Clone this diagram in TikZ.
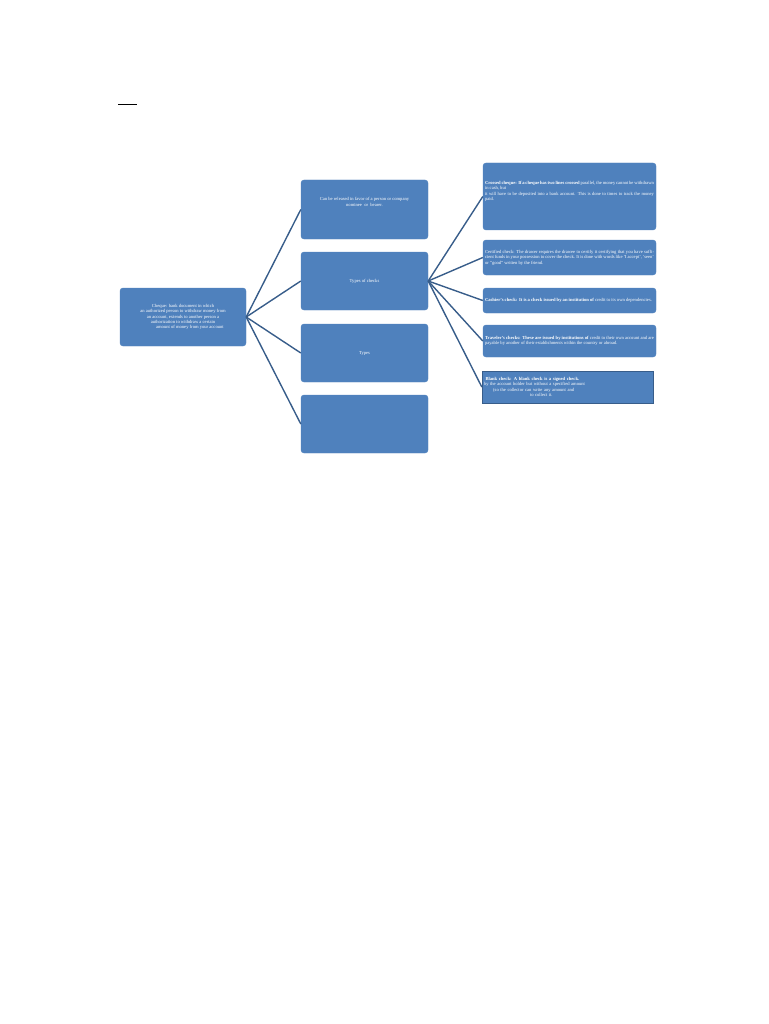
\documentclass[tikz,border=0pt]{standalone}
\usepackage{fontspec}
\setmainfont{Liberation Serif}
\begin{document}
\begin{tikzpicture}[x=1pt,y=-1pt,
 bx/.style={fill=blue!35!cyan!40!black!0,fill={rgb,255:red,79;green,129;blue,189},draw={rgb,255:red,79;green,129;blue,189},rounded corners=3pt,text=white,font=\fontsize{4.6}{5.4}\selectfont,inner sep=2pt},
 ln/.style={draw={rgb,255:red,56;green,93;blue,138},line width=1.4pt}]
\useasboundingbox (0,0) rectangle (768,1024);
\draw[line width=0.8pt] (118,104) -- (137,104);
\node[bx,minimum width=126pt,minimum height=58pt,align=center] (root) at (183,317) {Cheque: bank document in which\\an authorized person to withdraw money from\\an account, extends to another person a\\authorization to withdraw a certain\\\hspace{3em}amount of money from your account};
\node[bx,minimum width=127pt,minimum height=59pt,align=center] (a) at (364.5,209.5) {Can be released in favor of a person or company\\nominee\ \ or\ \ bearer.\\[10pt]};
\node[bx,minimum width=127pt,minimum height=58pt,align=center] (b) at (364.5,281) {Types of checks};
\node[bx,minimum width=127pt,minimum height=58pt,align=center] (c) at (364.5,353) {Types};
\node[bx,minimum width=127pt,minimum height=58pt] (d) at (364.5,424) {};
\node[bx,minimum width=173pt,minimum height=67pt,text width=169pt,align=justify] (r1) at (569.5,196.5) {\textbf{Crossed cheque: If a cheque has two lines crossed} parallel, the money cannot be withdrawn in cash, but\\it will have to be deposited into a bank account. This is done to times to track the money paid.\\[6pt]};
\node[bx,minimum width=173pt,minimum height=35pt,text width=169pt,align=justify] (r2) at (569.5,257.5) {Certified check: The drawer requires the drawee to certify it certifying that you have sufficient funds in your possession to cover the check. It is done with words like 'I accept', 'seen' or "good" written by the friend.};
\node[bx,minimum width=173pt,minimum height=25pt,text width=169pt,align=justify] (r3) at (569.5,300.5) {\textbf{Cashier's check: It is a check issued by an institution of} credit to its own dependencies.};
\node[bx,minimum width=173pt,minimum height=32pt,text width=169pt,align=justify] (r4) at (569.5,341) {\textbf{Traveler's checks: These are issued by institutions of} credit to their own account and are payable by another of their establishments within the country or abroad.};
\node[bx,rounded corners=0pt,draw={rgb,255:red,56;green,93;blue,138},minimum width=169pt,minimum height=32pt,text width=167pt,align=left] (r5) at (567.5,387) {\ \textbf{Blank check: A blank check is a signed check.}\\by the account holder but without a specified amount\\\hspace{2em}(so the collector can write any amount and\\\hspace{10em}to collect it.};
\foreach \t in {a,b,c,d} \draw[ln] (root.east) -- (\t.west);
\foreach \t in {r1,r2,r3,r4,r5} \draw[ln] (b.east) -- (\t.west);
\end{tikzpicture}
\end{document}
